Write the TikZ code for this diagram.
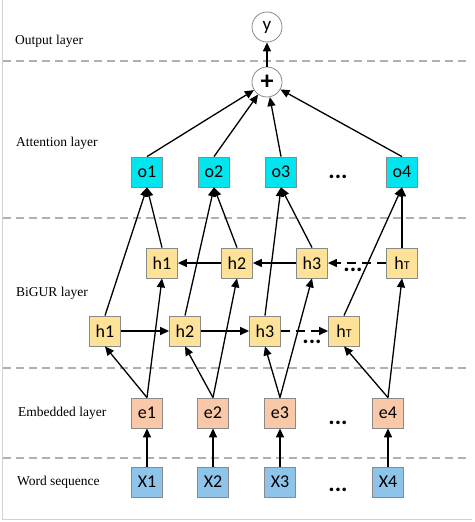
\documentclass[tikz,border=0pt]{standalone}
\usepackage{fontspec}
\setmainfont{Liberation Serif}
\newfontfamily\boxfont{Carlito}
\usetikzlibrary{arrows.meta}
\definecolor{ocol}{HTML}{00E5EE}
\definecolor{hcol}{HTML}{FDE297}
\definecolor{ecol}{HTML}{F9C8A8}
\definecolor{xcol}{HTML}{8EC4EA}
\definecolor{bordcol}{HTML}{8A8A8A}
\definecolor{dashcol}{HTML}{B0B0B0}
\tikzset{
  cell/.style={draw=bordcol, line width=0.8pt, minimum width=31pt, minimum height=30pt, inner sep=0pt,
    font=\boxfont\fontsize{18}{20}\selectfont},
  ocell/.style={cell, fill=ocol},
  hcell/.style={cell, fill=hcol},
  ecell/.style={cell, fill=ecol},
  xcell/.style={cell, fill=xcol},
  circ/.style={circle, draw=bordcol, line width=0.8pt, minimum size=30pt, inner sep=0pt, fill=white,
    font=\boxfont\fontsize{19}{20}\selectfont},
  conn/.style={line width=1.3pt, -{Triangle[length=9pt,width=8pt]}},
  dconn/.style={conn, dash pattern=on 9pt off 6pt},
  sep/.style={dashcol, line width=1.2pt, dash pattern=on 8pt off 5pt},
  lab/.style={anchor=west, inner sep=0pt, font=\fontsize{13.5}{16}\selectfont},
  dots/.style={inner sep=0pt, font=\boxfont\bfseries\fontsize{24}{26}\selectfont}
}
\newcommand{\hT}{h{\fontsize{12}{14}\selectfont T}}
\begin{document}
\begin{tikzpicture}[x=1pt,y=-1pt]
\useasboundingbox (0,0) rectangle (474,522);
\draw[gray!35, line width=0.6pt] (2.5,0) -- (2.5,519.5) -- (471.5,519.5);
% separators
\draw[sep] (3,61) -- (470,61);
\draw[sep] (3,218) -- (470,218);
\draw[sep] (3,368) -- (470,368);
\draw[sep] (3,458) -- (470,458);
% labels
\node[lab] (l1) at (15,41) {Output layer};
\node[lab] (l2) at (16,143) {Attention layer};
\node[lab] (l3) at (16,293) {BiGUR layer};
\node[lab] (l4) at (18,413) {Embedded layer};
\node[lab] (l5) at (17,482) {Word sequence};
% circles
\node[circ] (y) at (267,27) {y};
\node[circ] (plus) at (267,82) {{\fontsize{26}{26}\selectfont\textbf{+}}};
% attention
\node[ocell] (o1) at (147,172) {o1};
\node[ocell] (o2) at (214,172) {o2};
\node[ocell] (o3) at (281,172) {o3};
\node[ocell] (o4) at (402,172) {o4};
\node[dots] (od) at (338,177) {...};
% backward row
\node[hcell] (b1) at (162,263) {h1};
\node[hcell] (b2) at (237,263) {h2};
\node[hcell] (b3) at (312,263) {h3};
\node[hcell] (bT) at (402,263) {\hT};
\node[dots] (bd) at (353,270) {...};
% forward row
\node[hcell] (f1) at (105,331) {h1};
\node[hcell] (f2) at (185,331) {h2};
\node[hcell] (f3) at (265,331) {h3};
\node[hcell] (fT) at (344,331) {\hT};
\node[dots] (fd) at (312,342) {...};
% embedded
\node[ecell] (e1) at (147,413) {e1};
\node[ecell] (e2) at (213,413) {e2};
\node[ecell] (e3) at (280,413) {e3};
\node[ecell] (e4) at (388,413) {e4};
\node[dots] (ed) at (338,423) {...};
% words
\node[xcell] (x1) at (147,482) {X1};
\node[xcell] (x2) at (213,482) {X2};
\node[xcell] (x3) at (280,482) {X3};
\node[xcell] (x4) at (388,482) {X4};
\node[dots] (xd) at (338,490) {...};
% connectors
\draw[conn] (plus) -- (y);
\foreach \o in {o1,o2,o3,o4} \draw[conn] (\o.north) -- (plus);
\draw[conn] (f1.north) -- (o1.south);
\draw[conn] (b1.north) -- (o1.south);
\draw[conn] (f2.north) -- (o2.south);
\draw[conn] (b2.north) -- (o2.south);
\draw[conn] (f3.north) -- (o3.south);
\draw[conn] (b3.north) -- (o3.south);
\draw[conn] (fT.north) -- (o4.south);
\draw[conn] (bT.north) -- (o4.south);
\draw[conn] (f1) -- (f2);
\draw[conn] (f2) -- (f3);
\draw[dconn] (f3) -- (fT);
\draw[dconn] (bT) -- (b3);
\draw[conn] (b3) -- (b2);
\draw[conn] (b2) -- (b1);
\draw[conn] (e1.north) -- (f1.south);
\draw[conn] (e1.north) -- (b1.south);
\draw[conn] (e2.north) -- (f2.south);
\draw[conn] (e2.north) -- (b2.south);
\draw[conn] (e3.north) -- (f3.south);
\draw[conn] (e3.north) -- (b3.south);
\draw[conn] (e4.north) -- (fT.south);
\draw[conn] (e4.north) -- (bT.south);
\draw[conn] (x1) -- (e1);
\draw[conn] (x2) -- (e2);
\draw[conn] (x3) -- (e3);
\draw[conn] (x4) -- (e4);
\end{tikzpicture}
\end{document}
